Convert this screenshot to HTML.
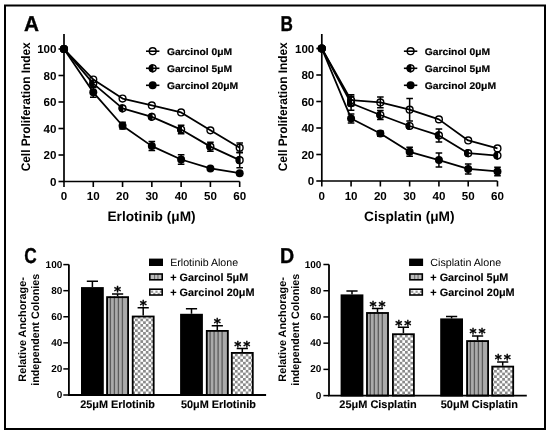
<!DOCTYPE html>
<html><head><meta charset="utf-8"><title>Garcinol figure</title>
<style>
html,body{margin:0;padding:0;background:#fff;}
svg{display:block;filter:blur(0.25px);}
text{font-family:"Liberation Sans", Arial, sans-serif;fill:#000;text-rendering:geometricPrecision;}
text.ast{font-family:"DejaVu Sans",sans-serif;font-weight:bold;stroke:#000;stroke-width:0.3px;}
</style></head><body>
<svg width="550" height="433" viewBox="0 0 550 433">
<rect width="550" height="433" fill="#fff"/>
<defs>
<pattern id="check" patternUnits="userSpaceOnUse" x="0" y="0" width="5.4" height="5.4">
<rect width="5.4" height="5.4" fill="#fff"/><rect width="2.7" height="2.7" fill="#8a8a8a"/><rect x="2.7" y="2.7" width="2.7" height="2.7" fill="#8a8a8a"/>
</pattern>
</defs>
<rect x="5" y="5.5" width="540" height="423.5" fill="none" stroke="#000" stroke-width="2"/>
<text x="24.1" y="30.6" font-size="21.5" font-weight="bold" stroke="#000" stroke-width="0.35" textLength="15.0" lengthAdjust="spacingAndGlyphs">A</text>
<path d="M64 34V181.5H239.68" fill="none" stroke="#000" stroke-width="1.7"/>
<path d="M58.5 181.5H64" stroke="#000" stroke-width="1.6"/>
<text x="56.5" y="185.6" font-size="11.6" font-weight="bold" text-anchor="end">0</text>
<path d="M58.5 155H64" stroke="#000" stroke-width="1.6"/>
<text x="56.5" y="159.1" font-size="11.6" font-weight="bold" text-anchor="end">20</text>
<path d="M58.5 128.5H64" stroke="#000" stroke-width="1.6"/>
<text x="56.5" y="132.6" font-size="11.6" font-weight="bold" text-anchor="end">40</text>
<path d="M58.5 102H64" stroke="#000" stroke-width="1.6"/>
<text x="56.5" y="106.1" font-size="11.6" font-weight="bold" text-anchor="end">60</text>
<path d="M58.5 75.5H64" stroke="#000" stroke-width="1.6"/>
<text x="56.5" y="79.6" font-size="11.6" font-weight="bold" text-anchor="end">80</text>
<path d="M58.5 49H64" stroke="#000" stroke-width="1.6"/>
<text x="56.5" y="53.1" font-size="11.6" font-weight="bold" text-anchor="end">100</text>
<path d="M64 181.5V187" stroke="#000" stroke-width="1.6"/>
<text x="64" y="200.1" font-size="11.6" font-weight="bold" text-anchor="middle">0</text>
<path d="M93.28 181.5V187" stroke="#000" stroke-width="1.6"/>
<text x="93.28" y="200.1" font-size="11.6" font-weight="bold" text-anchor="middle">10</text>
<path d="M122.56 181.5V187" stroke="#000" stroke-width="1.6"/>
<text x="122.56" y="200.1" font-size="11.6" font-weight="bold" text-anchor="middle">20</text>
<path d="M151.84 181.5V187" stroke="#000" stroke-width="1.6"/>
<text x="151.84" y="200.1" font-size="11.6" font-weight="bold" text-anchor="middle">30</text>
<path d="M181.12 181.5V187" stroke="#000" stroke-width="1.6"/>
<text x="181.12" y="200.1" font-size="11.6" font-weight="bold" text-anchor="middle">40</text>
<path d="M210.4 181.5V187" stroke="#000" stroke-width="1.6"/>
<text x="210.4" y="200.1" font-size="11.6" font-weight="bold" text-anchor="middle">50</text>
<path d="M239.68 181.5V187" stroke="#000" stroke-width="1.6"/>
<text x="239.68" y="200.1" font-size="11.6" font-weight="bold" text-anchor="middle">60</text>
<text x="151.54" y="221" font-size="13.7" font-weight="bold" text-anchor="middle">Erlotinib (μM)</text>
<text transform="translate(29.9 106.8) rotate(-90)" x="0" y="0" font-size="12.4" font-weight="bold" text-anchor="middle" textLength="129" lengthAdjust="spacingAndGlyphs">Cell Proliferation Index</text>
<polyline points="64,49 93.28,79.48 122.56,98.56 151.84,105.45 181.12,112.47 210.4,130.35 239.68,147.71" fill="none" stroke="#000" stroke-width="1.8" stroke-linejoin="round"/>
<polyline points="64,49 93.28,83.58 122.56,108.36 151.84,116.84 181.12,129.56 210.4,146.65 239.68,160.17" fill="none" stroke="#000" stroke-width="1.8" stroke-linejoin="round"/>
<polyline points="64,49 93.28,92.33 122.56,125.72 151.84,146.12 181.12,159.5 210.4,168.38 239.68,173.15" fill="none" stroke="#000" stroke-width="1.8" stroke-linejoin="round"/>
<path d="M239.68 143.11V152.31M236.38 143.11h6.6M236.38 152.31h6.6" stroke="#000" stroke-width="1.5" fill="none"/>
<path d="M181.12 125.26V133.86M177.82 125.26h6.6M177.82 133.86h6.6" stroke="#000" stroke-width="1.5" fill="none"/>
<path d="M210.4 142.15V151.15M207.1 142.15h6.6M207.1 151.15h6.6" stroke="#000" stroke-width="1.5" fill="none"/>
<path d="M239.68 152.67V167.67M236.38 152.67h6.6M236.38 167.67h6.6" stroke="#000" stroke-width="1.5" fill="none"/>
<path d="M93.28 87.43V97.23M89.98 87.43h6.6M89.98 97.23h6.6" stroke="#000" stroke-width="1.5" fill="none"/>
<path d="M122.56 122.32V129.12M119.26 122.32h6.6M119.26 129.12h6.6" stroke="#000" stroke-width="1.5" fill="none"/>
<path d="M151.84 141.62V150.62M148.54 141.62h6.6M148.54 150.62h6.6" stroke="#000" stroke-width="1.5" fill="none"/>
<path d="M181.12 154.7V164.31M177.82 154.7h6.6M177.82 164.31h6.6" stroke="#000" stroke-width="1.5" fill="none"/>
<circle cx="64" cy="49" r="3.4" fill="none" stroke="#000" stroke-width="1.4"/>
<circle cx="93.28" cy="79.48" r="3.4" fill="none" stroke="#000" stroke-width="1.4"/>
<circle cx="122.56" cy="98.56" r="3.4" fill="none" stroke="#000" stroke-width="1.4"/>
<circle cx="151.84" cy="105.45" r="3.4" fill="none" stroke="#000" stroke-width="1.4"/>
<circle cx="181.12" cy="112.47" r="3.4" fill="none" stroke="#000" stroke-width="1.4"/>
<circle cx="210.4" cy="130.35" r="3.4" fill="none" stroke="#000" stroke-width="1.4"/>
<circle cx="239.68" cy="147.71" r="3.4" fill="none" stroke="#000" stroke-width="1.4"/>
<circle cx="64" cy="49" r="3.4" fill="none" stroke="#000" stroke-width="1.4"/><path d="M64 45.6A3.4 3.4 0 0 0 64 52.4Z" fill="#000" stroke="#000" stroke-width="1.4"/>
<circle cx="93.28" cy="83.58" r="3.4" fill="none" stroke="#000" stroke-width="1.4"/><path d="M93.28 80.18A3.4 3.4 0 0 0 93.28 86.98Z" fill="#000" stroke="#000" stroke-width="1.4"/>
<circle cx="122.56" cy="108.36" r="3.4" fill="none" stroke="#000" stroke-width="1.4"/><path d="M122.56 104.96A3.4 3.4 0 0 0 122.56 111.76Z" fill="#000" stroke="#000" stroke-width="1.4"/>
<circle cx="151.84" cy="116.84" r="3.4" fill="none" stroke="#000" stroke-width="1.4"/><path d="M151.84 113.44A3.4 3.4 0 0 0 151.84 120.24Z" fill="#000" stroke="#000" stroke-width="1.4"/>
<circle cx="181.12" cy="129.56" r="3.4" fill="none" stroke="#000" stroke-width="1.4"/><path d="M181.12 126.16A3.4 3.4 0 0 0 181.12 132.96Z" fill="#000" stroke="#000" stroke-width="1.4"/>
<circle cx="210.4" cy="146.65" r="3.4" fill="none" stroke="#000" stroke-width="1.4"/><path d="M210.4 143.25A3.4 3.4 0 0 0 210.4 150.05Z" fill="#000" stroke="#000" stroke-width="1.4"/>
<circle cx="239.68" cy="160.17" r="3.4" fill="none" stroke="#000" stroke-width="1.4"/><path d="M239.68 156.77A3.4 3.4 0 0 0 239.68 163.57Z" fill="#000" stroke="#000" stroke-width="1.4"/>
<circle cx="64" cy="49" r="4.0" fill="#000"/>
<circle cx="93.28" cy="92.33" r="4.0" fill="#000"/>
<circle cx="122.56" cy="125.72" r="4.0" fill="#000"/>
<circle cx="151.84" cy="146.12" r="4.0" fill="#000"/>
<circle cx="181.12" cy="159.5" r="4.0" fill="#000"/>
<circle cx="210.4" cy="168.38" r="4.0" fill="#000"/>
<circle cx="239.68" cy="173.15" r="4.0" fill="#000"/>
<path d="M146 51.2H159.4" stroke="#000" stroke-width="1.6"/>
<circle cx="152.7" cy="51.2" r="3.4" fill="none" stroke="#000" stroke-width="1.4"/>
<text x="166.9" y="54.7" font-size="9.6" font-weight="bold" stroke="#000" stroke-width="0.2" textLength="65.2" lengthAdjust="spacingAndGlyphs">Garcinol 0μM</text>
<path d="M146 68.3H159.4" stroke="#000" stroke-width="1.6"/>
<circle cx="152.7" cy="68.3" r="3.4" fill="none" stroke="#000" stroke-width="1.4"/><path d="M152.7 64.9A3.4 3.4 0 0 0 152.7 71.7Z" fill="#000" stroke="#000" stroke-width="1.4"/>
<text x="166.9" y="71.8" font-size="9.6" font-weight="bold" stroke="#000" stroke-width="0.2" textLength="65.2" lengthAdjust="spacingAndGlyphs">Garcinol 5μM</text>
<path d="M146 85.3H159.4" stroke="#000" stroke-width="1.6"/>
<circle cx="152.7" cy="85.3" r="4.0" fill="#000"/>
<text x="166.9" y="88.8" font-size="9.6" font-weight="bold" stroke="#000" stroke-width="0.2" textLength="71.2" lengthAdjust="spacingAndGlyphs">Garcinol 20μM</text>
<text x="280.4" y="30.6" font-size="21.5" font-weight="bold" stroke="#000" stroke-width="0.35" textLength="12.4" lengthAdjust="spacingAndGlyphs">B</text>
<path d="M321.8 34V181H497.48" fill="none" stroke="#000" stroke-width="1.7"/>
<path d="M316.3 181H321.8" stroke="#000" stroke-width="1.6"/>
<text x="314.3" y="185.1" font-size="11.6" font-weight="bold" text-anchor="end">0</text>
<path d="M316.3 154.5H321.8" stroke="#000" stroke-width="1.6"/>
<text x="314.3" y="158.6" font-size="11.6" font-weight="bold" text-anchor="end">20</text>
<path d="M316.3 128H321.8" stroke="#000" stroke-width="1.6"/>
<text x="314.3" y="132.1" font-size="11.6" font-weight="bold" text-anchor="end">40</text>
<path d="M316.3 101.5H321.8" stroke="#000" stroke-width="1.6"/>
<text x="314.3" y="105.6" font-size="11.6" font-weight="bold" text-anchor="end">60</text>
<path d="M316.3 75H321.8" stroke="#000" stroke-width="1.6"/>
<text x="314.3" y="79.1" font-size="11.6" font-weight="bold" text-anchor="end">80</text>
<path d="M316.3 48.5H321.8" stroke="#000" stroke-width="1.6"/>
<text x="314.3" y="52.6" font-size="11.6" font-weight="bold" text-anchor="end">100</text>
<path d="M321.8 181V186.5" stroke="#000" stroke-width="1.6"/>
<text x="321.8" y="200.1" font-size="11.6" font-weight="bold" text-anchor="middle">0</text>
<path d="M351.08 181V186.5" stroke="#000" stroke-width="1.6"/>
<text x="351.08" y="200.1" font-size="11.6" font-weight="bold" text-anchor="middle">10</text>
<path d="M380.36 181V186.5" stroke="#000" stroke-width="1.6"/>
<text x="380.36" y="200.1" font-size="11.6" font-weight="bold" text-anchor="middle">20</text>
<path d="M409.64 181V186.5" stroke="#000" stroke-width="1.6"/>
<text x="409.64" y="200.1" font-size="11.6" font-weight="bold" text-anchor="middle">30</text>
<path d="M438.92 181V186.5" stroke="#000" stroke-width="1.6"/>
<text x="438.92" y="200.1" font-size="11.6" font-weight="bold" text-anchor="middle">40</text>
<path d="M468.2 181V186.5" stroke="#000" stroke-width="1.6"/>
<text x="468.2" y="200.1" font-size="11.6" font-weight="bold" text-anchor="middle">50</text>
<path d="M497.48 181V186.5" stroke="#000" stroke-width="1.6"/>
<text x="497.48" y="200.1" font-size="11.6" font-weight="bold" text-anchor="middle">60</text>
<text x="409.34" y="221" font-size="13.7" font-weight="bold" text-anchor="middle">Cisplatin (μM)</text>
<text transform="translate(287.2 106.8) rotate(-90)" x="0" y="0" font-size="12.4" font-weight="bold" text-anchor="middle" textLength="129" lengthAdjust="spacingAndGlyphs">Cell Proliferation Index</text>
<polyline points="321.8,48.5 351.08,100.17 380.36,102.43 409.64,109.72 438.92,119.39 468.2,140.45 497.48,148.41" fill="none" stroke="#000" stroke-width="1.8" stroke-linejoin="round"/>
<polyline points="321.8,48.5 351.08,103.22 380.36,115.02 409.64,126.01 438.92,135.42 468.2,153.18 497.48,155.56" fill="none" stroke="#000" stroke-width="1.8" stroke-linejoin="round"/>
<polyline points="321.8,48.5 351.08,118.46 380.36,133.56 409.64,151.85 438.92,160.06 468.2,168.94 497.48,171.46" fill="none" stroke="#000" stroke-width="1.8" stroke-linejoin="round"/>
<path d="M351.08 94.67V105.67M347.78 94.67h6.6M347.78 105.67h6.6" stroke="#000" stroke-width="1.5" fill="none"/>
<path d="M380.36 97.03V107.83M377.06 97.03h6.6M377.06 107.83h6.6" stroke="#000" stroke-width="1.5" fill="none"/>
<path d="M409.64 98.52V120.92M406.34 98.52h6.6M406.34 120.92h6.6" stroke="#000" stroke-width="1.5" fill="none"/>
<path d="M351.08 96.22V110.22M347.78 96.22h6.6M347.78 110.22h6.6" stroke="#000" stroke-width="1.5" fill="none"/>
<path d="M380.36 110.52V119.52M377.06 110.52h6.6M377.06 119.52h6.6" stroke="#000" stroke-width="1.5" fill="none"/>
<path d="M438.92 128.92V141.92M435.62 128.92h6.6M435.62 141.92h6.6" stroke="#000" stroke-width="1.5" fill="none"/>
<path d="M351.08 113.96V122.96M347.78 113.96h6.6M347.78 122.96h6.6" stroke="#000" stroke-width="1.5" fill="none"/>
<path d="M380.36 130.97V136.16M377.06 130.97h6.6M377.06 136.16h6.6" stroke="#000" stroke-width="1.5" fill="none"/>
<path d="M409.64 147.35V156.35M406.34 147.35h6.6M406.34 156.35h6.6" stroke="#000" stroke-width="1.5" fill="none"/>
<path d="M438.92 153.06V167.06M435.62 153.06h6.6M435.62 167.06h6.6" stroke="#000" stroke-width="1.5" fill="none"/>
<path d="M468.2 163.94V173.94M464.9 163.94h6.6M464.9 173.94h6.6" stroke="#000" stroke-width="1.5" fill="none"/>
<path d="M497.48 167.16V175.76M494.18 167.16h6.6M494.18 175.76h6.6" stroke="#000" stroke-width="1.5" fill="none"/>
<circle cx="321.8" cy="48.5" r="3.4" fill="none" stroke="#000" stroke-width="1.4"/>
<circle cx="351.08" cy="100.17" r="3.4" fill="none" stroke="#000" stroke-width="1.4"/>
<circle cx="380.36" cy="102.43" r="3.4" fill="none" stroke="#000" stroke-width="1.4"/>
<circle cx="409.64" cy="109.72" r="3.4" fill="none" stroke="#000" stroke-width="1.4"/>
<circle cx="438.92" cy="119.39" r="3.4" fill="none" stroke="#000" stroke-width="1.4"/>
<circle cx="468.2" cy="140.45" r="3.4" fill="none" stroke="#000" stroke-width="1.4"/>
<circle cx="497.48" cy="148.41" r="3.4" fill="none" stroke="#000" stroke-width="1.4"/>
<circle cx="321.8" cy="48.5" r="3.4" fill="none" stroke="#000" stroke-width="1.4"/><path d="M321.8 45.1A3.4 3.4 0 0 0 321.8 51.9Z" fill="#000" stroke="#000" stroke-width="1.4"/>
<circle cx="351.08" cy="103.22" r="3.4" fill="none" stroke="#000" stroke-width="1.4"/><path d="M351.08 99.82A3.4 3.4 0 0 0 351.08 106.62Z" fill="#000" stroke="#000" stroke-width="1.4"/>
<circle cx="380.36" cy="115.02" r="3.4" fill="none" stroke="#000" stroke-width="1.4"/><path d="M380.36 111.61A3.4 3.4 0 0 0 380.36 118.42Z" fill="#000" stroke="#000" stroke-width="1.4"/>
<circle cx="409.64" cy="126.01" r="3.4" fill="none" stroke="#000" stroke-width="1.4"/><path d="M409.64 122.61A3.4 3.4 0 0 0 409.64 129.41Z" fill="#000" stroke="#000" stroke-width="1.4"/>
<circle cx="438.92" cy="135.42" r="3.4" fill="none" stroke="#000" stroke-width="1.4"/><path d="M438.92 132.02A3.4 3.4 0 0 0 438.92 138.82Z" fill="#000" stroke="#000" stroke-width="1.4"/>
<circle cx="468.2" cy="153.18" r="3.4" fill="none" stroke="#000" stroke-width="1.4"/><path d="M468.2 149.78A3.4 3.4 0 0 0 468.2 156.58Z" fill="#000" stroke="#000" stroke-width="1.4"/>
<circle cx="497.48" cy="155.56" r="3.4" fill="none" stroke="#000" stroke-width="1.4"/><path d="M497.48 152.16A3.4 3.4 0 0 0 497.48 158.96Z" fill="#000" stroke="#000" stroke-width="1.4"/>
<circle cx="321.8" cy="48.5" r="4.0" fill="#000"/>
<circle cx="351.08" cy="118.46" r="4.0" fill="#000"/>
<circle cx="380.36" cy="133.56" r="4.0" fill="#000"/>
<circle cx="409.64" cy="151.85" r="4.0" fill="#000"/>
<circle cx="438.92" cy="160.06" r="4.0" fill="#000"/>
<circle cx="468.2" cy="168.94" r="4.0" fill="#000"/>
<circle cx="497.48" cy="171.46" r="4.0" fill="#000"/>
<path d="M403.9 51.2H417.3" stroke="#000" stroke-width="1.6"/>
<circle cx="410.6" cy="51.2" r="3.4" fill="none" stroke="#000" stroke-width="1.4"/>
<text x="424.8" y="54.7" font-size="9.6" font-weight="bold" stroke="#000" stroke-width="0.2" textLength="65.2" lengthAdjust="spacingAndGlyphs">Garcinol 0μM</text>
<path d="M403.9 68.3H417.3" stroke="#000" stroke-width="1.6"/>
<circle cx="410.6" cy="68.3" r="3.4" fill="none" stroke="#000" stroke-width="1.4"/><path d="M410.6 64.9A3.4 3.4 0 0 0 410.6 71.7Z" fill="#000" stroke="#000" stroke-width="1.4"/>
<text x="424.8" y="71.8" font-size="9.6" font-weight="bold" stroke="#000" stroke-width="0.2" textLength="65.2" lengthAdjust="spacingAndGlyphs">Garcinol 5μM</text>
<path d="M403.9 85.3H417.3" stroke="#000" stroke-width="1.6"/>
<circle cx="410.6" cy="85.3" r="4.0" fill="#000"/>
<text x="424.8" y="88.8" font-size="9.6" font-weight="bold" stroke="#000" stroke-width="0.2" textLength="71.2" lengthAdjust="spacingAndGlyphs">Garcinol 20μM</text>
<text x="24.3" y="262.5" font-size="21.5" font-weight="bold" stroke="#000" stroke-width="0.35" textLength="12.5" lengthAdjust="spacingAndGlyphs">C</text>
<rect x="81.9" y="288" width="21" height="107" fill="#000" stroke="#000" stroke-width="1.8"/>
<path d="M92.4 287.1V281.3M86.8 281.3h11.2" stroke="#000" stroke-width="1.5" fill="none"/>
<rect x="106.2" y="296.3" width="22.8" height="98.7" fill="#ababab"/>
<rect x="109.75" y="296.3" width="1.3" height="98.7" fill="#5c5c5c"/>
<rect x="113.75" y="296.3" width="1.3" height="98.7" fill="#5c5c5c"/>
<rect x="117.75" y="296.3" width="1.3" height="98.7" fill="#5c5c5c"/>
<rect x="121.75" y="296.3" width="1.3" height="98.7" fill="#5c5c5c"/>
<rect x="107.1" y="297.2" width="21" height="97.8" fill="none" stroke="#000" stroke-width="1.8"/>
<path d="M117.6 296.3V293.9M112 293.9h11.2" stroke="#000" stroke-width="1.5" fill="none"/>
<text class="ast" x="117.6" y="296.18" font-size="13.5" text-anchor="middle">*</text>
<rect x="132.7" y="316.5" width="21" height="78.5" fill="url(#check)" stroke="#000" stroke-width="1.8"/>
<path d="M143.2 315.6V307.8M137.6 307.8h11.2" stroke="#000" stroke-width="1.5" fill="none"/>
<text class="ast" x="143.2" y="310.08" font-size="13.5" text-anchor="middle">*</text>
<rect x="181" y="314.7" width="21" height="80.3" fill="#000" stroke="#000" stroke-width="1.8"/>
<path d="M191.5 313.8V308.8M185.9 308.8h11.2" stroke="#000" stroke-width="1.5" fill="none"/>
<rect x="205.9" y="330" width="22.8" height="65" fill="#ababab"/>
<rect x="209.45" y="330" width="1.3" height="65" fill="#5c5c5c"/>
<rect x="213.45" y="330" width="1.3" height="65" fill="#5c5c5c"/>
<rect x="217.45" y="330" width="1.3" height="65" fill="#5c5c5c"/>
<rect x="221.45" y="330" width="1.3" height="65" fill="#5c5c5c"/>
<rect x="206.8" y="330.9" width="21" height="64.1" fill="none" stroke="#000" stroke-width="1.8"/>
<path d="M217.3 330V325.8M211.7 325.8h11.2" stroke="#000" stroke-width="1.5" fill="none"/>
<text class="ast" x="217.3" y="328.08" font-size="13.5" text-anchor="middle">*</text>
<rect x="231.8" y="352.9" width="21" height="42.1" fill="url(#check)" stroke="#000" stroke-width="1.8"/>
<path d="M242.3 352V348.6M236.7 348.6h11.2" stroke="#000" stroke-width="1.5" fill="none"/>
<text class="ast" x="237.8 246.8" y="350.88" font-size="13.5" text-anchor="middle">**</text>
<path d="M68.9 264.6V395H266.1" fill="none" stroke="#000" stroke-width="1.8"/>
<path d="M63.3 395H68.9" stroke="#000" stroke-width="1.5"/>
<text x="62.3" y="398.1" font-size="10" font-weight="bold" text-anchor="end">0</text>
<path d="M63.3 368.92H68.9" stroke="#000" stroke-width="1.5"/>
<text x="62.3" y="372.02" font-size="10" font-weight="bold" text-anchor="end">20</text>
<path d="M63.3 342.84H68.9" stroke="#000" stroke-width="1.5"/>
<text x="62.3" y="345.94" font-size="10" font-weight="bold" text-anchor="end">40</text>
<path d="M63.3 316.76H68.9" stroke="#000" stroke-width="1.5"/>
<text x="62.3" y="319.86" font-size="10" font-weight="bold" text-anchor="end">60</text>
<path d="M63.3 290.68H68.9" stroke="#000" stroke-width="1.5"/>
<text x="62.3" y="293.78" font-size="10" font-weight="bold" text-anchor="end">80</text>
<path d="M63.3 264.6H68.9" stroke="#000" stroke-width="1.5"/>
<text x="62.3" y="267.7" font-size="10" font-weight="bold" text-anchor="end">100</text>
<text x="117.6" y="408.3" font-size="11" font-weight="bold" stroke="#000" stroke-width="0.12" text-anchor="middle" textLength="74.8" lengthAdjust="spacingAndGlyphs">25μM Erlotinib</text>
<text x="218.4" y="408.3" font-size="11" font-weight="bold" stroke="#000" stroke-width="0.12" text-anchor="middle" textLength="74.8" lengthAdjust="spacingAndGlyphs">50μM Erlotinib</text>
<text transform="translate(26.4 329.4) rotate(-90)" font-size="10.9" font-weight="bold" text-anchor="middle" textLength="104.5" lengthAdjust="spacingAndGlyphs">Relative Anchorage-</text>
<text transform="translate(39.2 329.8) rotate(-90)" font-size="10.9" font-weight="bold" text-anchor="middle" textLength="111.8" lengthAdjust="spacingAndGlyphs">independent Colonies</text>
<rect x="149.8" y="259.4" width="12.4" height="5.8" fill="#000" stroke="#000" stroke-width="1.6"/>
<text x="170.2" y="265.6" font-size="10.5" fill="#484848" textLength="67.9" lengthAdjust="spacingAndGlyphs">Erlotinib Alone</text>
<rect x="150" y="274.2" width="12" height="5.4" fill="#bdbdbd"/>
<rect x="154.2" y="274.2" width="0.9" height="5.4" fill="#5a5a5a"/>
<rect x="157.5" y="274.2" width="0.9" height="5.4" fill="#5a5a5a"/>
<rect x="149.8" y="274" width="12.4" height="5.8" fill="none" stroke="#000" stroke-width="1.6"/>
<text x="170.2" y="280.5" font-size="10.8" font-weight="bold" stroke="#000" stroke-width="0.12" textLength="78.0" lengthAdjust="spacingAndGlyphs">+ Garcinol 5μM</text>
<rect x="150" y="289.4" width="12" height="5.4" fill="#fff"/>
<rect x="151" y="290.6" width="2.2" height="2.2" fill="#9a9a9a"/>
<rect x="155.4" y="290.6" width="2.2" height="2.2" fill="#9a9a9a"/>
<rect x="159.8" y="290.6" width="2.2" height="2.2" fill="#9a9a9a"/>
<rect x="153.2" y="292.8" width="2.2" height="2.2" fill="#9a9a9a"/>
<rect x="157.6" y="292.8" width="2.2" height="2.2" fill="#9a9a9a"/>
<rect x="149.8" y="289.2" width="12.4" height="5.8" fill="none" stroke="#000" stroke-width="1.6"/>
<text x="170.2" y="296.3" font-size="10.8" font-weight="bold" stroke="#000" stroke-width="0.12" textLength="84.4" lengthAdjust="spacingAndGlyphs">+ Garcinol 20μM</text>
<text x="280.1" y="262.5" font-size="21.5" font-weight="bold" stroke="#000" stroke-width="0.35" textLength="14.2" lengthAdjust="spacingAndGlyphs">D</text>
<rect x="341.5" y="295.3" width="21" height="100.3" fill="#000" stroke="#000" stroke-width="1.8"/>
<path d="M352 294.4V291.1M346.4 291.1h11.2" stroke="#000" stroke-width="1.5" fill="none"/>
<rect x="366.1" y="312.1" width="22.8" height="83.5" fill="#ababab"/>
<rect x="369.65" y="312.1" width="1.3" height="83.5" fill="#5c5c5c"/>
<rect x="373.65" y="312.1" width="1.3" height="83.5" fill="#5c5c5c"/>
<rect x="377.65" y="312.1" width="1.3" height="83.5" fill="#5c5c5c"/>
<rect x="381.65" y="312.1" width="1.3" height="83.5" fill="#5c5c5c"/>
<rect x="367" y="313" width="21" height="82.6" fill="none" stroke="#000" stroke-width="1.8"/>
<path d="M377.5 312.1V308.4M371.9 308.4h11.2" stroke="#000" stroke-width="1.5" fill="none"/>
<text class="ast" x="373 382" y="310.68" font-size="13.5" text-anchor="middle">**</text>
<rect x="392.9" y="334.2" width="21" height="61.4" fill="url(#check)" stroke="#000" stroke-width="1.8"/>
<path d="M403.4 333.3V327.3M397.8 327.3h11.2" stroke="#000" stroke-width="1.5" fill="none"/>
<text class="ast" x="398.9 407.9" y="329.58" font-size="13.5" text-anchor="middle">**</text>
<rect x="441.1" y="319.3" width="21" height="76.3" fill="#000" stroke="#000" stroke-width="1.8"/>
<path d="M451.6 318.4V316.5M446 316.5h11.2" stroke="#000" stroke-width="1.5" fill="none"/>
<rect x="466.2" y="340.2" width="22.8" height="55.4" fill="#ababab"/>
<rect x="469.75" y="340.2" width="1.3" height="55.4" fill="#5c5c5c"/>
<rect x="473.75" y="340.2" width="1.3" height="55.4" fill="#5c5c5c"/>
<rect x="477.75" y="340.2" width="1.3" height="55.4" fill="#5c5c5c"/>
<rect x="481.75" y="340.2" width="1.3" height="55.4" fill="#5c5c5c"/>
<rect x="467.1" y="341.1" width="21" height="54.5" fill="none" stroke="#000" stroke-width="1.8"/>
<path d="M477.6 340.2V336M472 336h11.2" stroke="#000" stroke-width="1.5" fill="none"/>
<text class="ast" x="473.1 482.1" y="338.28" font-size="13.5" text-anchor="middle">**</text>
<rect x="492.2" y="366.6" width="21" height="29" fill="url(#check)" stroke="#000" stroke-width="1.8"/>
<path d="M502.7 365.7V362.1M497.1 362.1h11.2" stroke="#000" stroke-width="1.5" fill="none"/>
<text class="ast" x="498.2 507.2" y="364.38" font-size="13.5" text-anchor="middle">**</text>
<path d="M329 264.5V395.6H526.8" fill="none" stroke="#000" stroke-width="1.8"/>
<path d="M323.4 395.6H329" stroke="#000" stroke-width="1.5"/>
<text x="321.4" y="398.7" font-size="10" font-weight="bold" text-anchor="end">0</text>
<path d="M323.4 369.38H329" stroke="#000" stroke-width="1.5"/>
<text x="321.4" y="372.48" font-size="10" font-weight="bold" text-anchor="end">20</text>
<path d="M323.4 343.16H329" stroke="#000" stroke-width="1.5"/>
<text x="321.4" y="346.26" font-size="10" font-weight="bold" text-anchor="end">40</text>
<path d="M323.4 316.94H329" stroke="#000" stroke-width="1.5"/>
<text x="321.4" y="320.04" font-size="10" font-weight="bold" text-anchor="end">60</text>
<path d="M323.4 290.72H329" stroke="#000" stroke-width="1.5"/>
<text x="321.4" y="293.82" font-size="10" font-weight="bold" text-anchor="end">80</text>
<path d="M323.4 264.5H329" stroke="#000" stroke-width="1.5"/>
<text x="321.4" y="267.6" font-size="10" font-weight="bold" text-anchor="end">100</text>
<text x="378" y="408.3" font-size="11" font-weight="bold" stroke="#000" stroke-width="0.12" text-anchor="middle" textLength="77.3" lengthAdjust="spacingAndGlyphs">25μM Cisplatin</text>
<text x="479.4" y="408.3" font-size="11" font-weight="bold" stroke="#000" stroke-width="0.12" text-anchor="middle" textLength="77.3" lengthAdjust="spacingAndGlyphs">50μM Cisplatin</text>
<text transform="translate(285.5 329.4) rotate(-90)" font-size="10.9" font-weight="bold" text-anchor="middle" textLength="104.5" lengthAdjust="spacingAndGlyphs">Relative Anchorage-</text>
<text transform="translate(299.3 329.8) rotate(-90)" font-size="10.9" font-weight="bold" text-anchor="middle" textLength="111.8" lengthAdjust="spacingAndGlyphs">independent Colonies</text>
<rect x="409.9" y="259.4" width="12.4" height="5.8" fill="#000" stroke="#000" stroke-width="1.6"/>
<text x="430.3" y="265.6" font-size="10.5" fill="#484848" textLength="70.8" lengthAdjust="spacingAndGlyphs">Cisplatin Alone</text>
<rect x="410.1" y="274.2" width="12" height="5.4" fill="#bdbdbd"/>
<rect x="414.3" y="274.2" width="0.9" height="5.4" fill="#5a5a5a"/>
<rect x="417.6" y="274.2" width="0.9" height="5.4" fill="#5a5a5a"/>
<rect x="409.9" y="274" width="12.4" height="5.8" fill="none" stroke="#000" stroke-width="1.6"/>
<text x="430.3" y="280.5" font-size="10.8" font-weight="bold" stroke="#000" stroke-width="0.12" textLength="78.0" lengthAdjust="spacingAndGlyphs">+ Garcinol 5μM</text>
<rect x="410.1" y="289.4" width="12" height="5.4" fill="#fff"/>
<rect x="411.1" y="290.6" width="2.2" height="2.2" fill="#9a9a9a"/>
<rect x="415.5" y="290.6" width="2.2" height="2.2" fill="#9a9a9a"/>
<rect x="419.9" y="290.6" width="2.2" height="2.2" fill="#9a9a9a"/>
<rect x="413.3" y="292.8" width="2.2" height="2.2" fill="#9a9a9a"/>
<rect x="417.7" y="292.8" width="2.2" height="2.2" fill="#9a9a9a"/>
<rect x="409.9" y="289.2" width="12.4" height="5.8" fill="none" stroke="#000" stroke-width="1.6"/>
<text x="430.3" y="296.3" font-size="10.8" font-weight="bold" stroke="#000" stroke-width="0.12" textLength="84.4" lengthAdjust="spacingAndGlyphs">+ Garcinol 20μM</text>
</svg>
</body></html>
